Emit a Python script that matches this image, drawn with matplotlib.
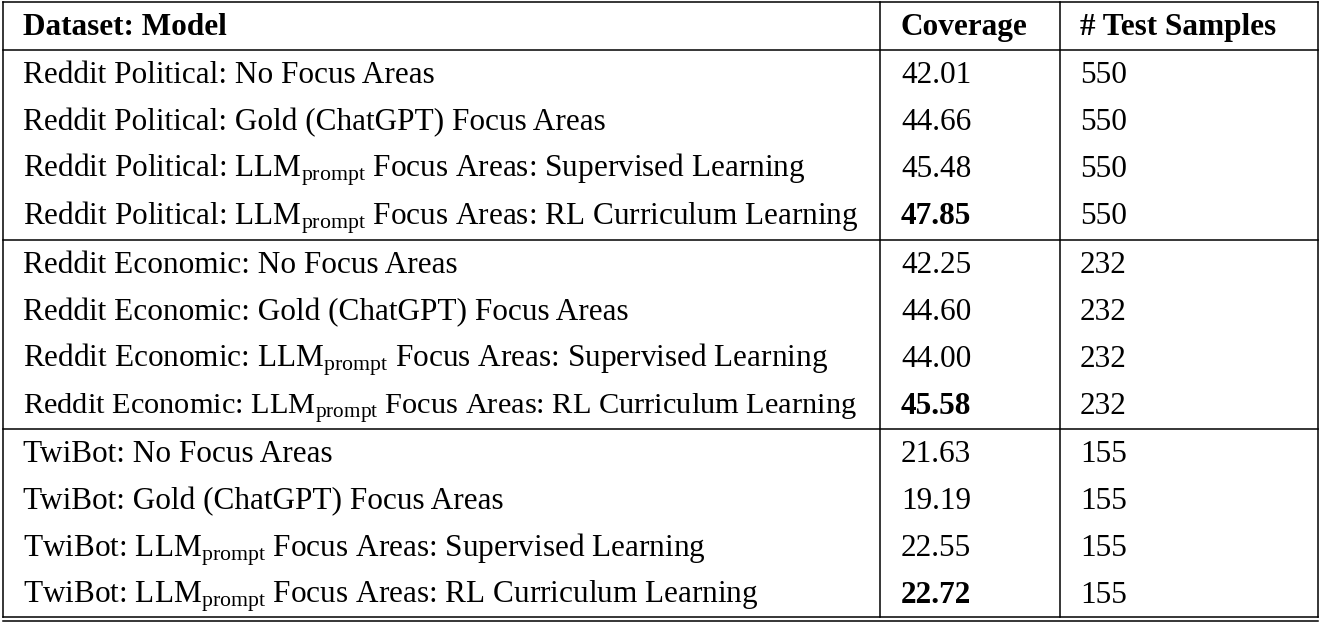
import matplotlib.pyplot as plt

plt.rcParams['font.family'] = ['Liberation Serif', 'DejaVu Serif']
plt.rcParams['mathtext.fontset'] = 'custom'
plt.rcParams['mathtext.rm'] = 'Liberation Serif'
plt.rcParams['mathtext.it'] = 'Liberation Serif:italic'
plt.rcParams['mathtext.bf'] = 'Liberation Serif:bold'

headers = ["Dataset: Model", "Coverage", "# Test Samples"]
datasets = ["Reddit Political", "Reddit Economic", "TwiBot"]
models = ["No Focus Areas",
          "Gold (ChatGPT) Focus Areas",
          r"LLM$_{\mathrm{prompt}}$ Focus Areas: Supervised Learning",
          r"LLM$_{\mathrm{prompt}}$ Focus Areas: RL Curriculum Learning"]
coverage = [[42.01, 44.66, 45.48, 47.85],
            [42.25, 44.60, 44.00, 45.58],
            [21.63, 19.19, 22.55, 22.72]]
samples = [550, 232, 155]

W, H = 1322, 624
fig = plt.figure(figsize=(W / 100, H / 100), dpi=100)
ax = fig.add_axes([0, 0, 1, 1])
ax.set_xlim(0, W)
ax.set_ylim(H, 0)
ax.axis('off')

fs = 22.5
lw = 1.1
left, right = 3, 1318
col_x = [880, 1060]
text_x = [23, 901, 1080]

# rules
for yy in [2, 50, 240, 429, 617, 620.5]:
    ax.plot([left, right], [yy, yy], color='black', lw=lw)
for xx in [left, right] + col_x:
    ax.plot([xx, xx], [2, 617], color='black', lw=lw)

# header
for tx, h in zip(text_x, headers):
    ax.text(tx, 35, h, fontsize=fs, fontweight='bold', va='baseline', ha='left')

# body (baselines)
row_y0 = [83, 273, 462]
step = 47
for g, ds in enumerate(datasets):
    best = max(coverage[g])
    for i, m in enumerate(models):
        y = row_y0[g] + i * step
        label = f"{ds}: {m}"
        # the longest label is squeezed a bit in the original to fit the cell
        lfs = fs * 0.974 if (g == 1 and i == 3) else fs
        ax.text(text_x[0], y, label, fontsize=lfs, va='baseline', ha='left')
        c = coverage[g][i]
        ax.text(text_x[1], y, f"{c:.2f}", fontsize=fs, va='baseline', ha='left',
                fontweight='bold' if c == best else 'normal')
        ax.text(text_x[2], y, str(samples[g]), fontsize=fs, va='baseline', ha='left')

fig.savefig('out.png', dpi=100)
